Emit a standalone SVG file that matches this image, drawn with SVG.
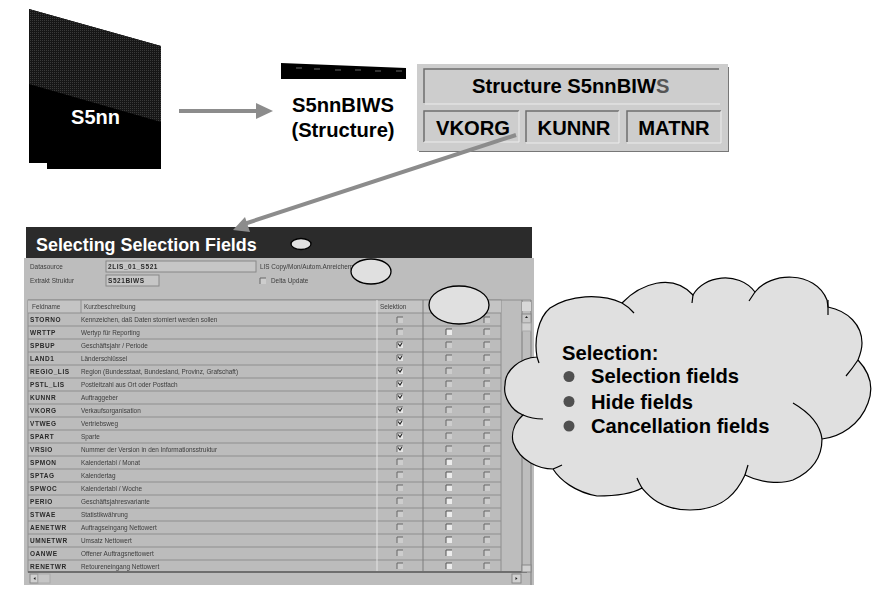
<svg xmlns="http://www.w3.org/2000/svg" width="874" height="592" viewBox="0 0 874 592">
<style>
text{font-family:"Liberation Sans",Arial,sans-serif}
.b{font-weight:700;fill:#000}
.h18{font-size:20.200px}
.c{text-anchor:middle}
.dk{stroke:#6e6e6e;stroke-width:1.5;fill:none}
.lt{stroke:#ececec;stroke-width:1;fill:none}
.fn{font-size:6.5px;font-weight:700;fill:#2a2a2a;letter-spacing:.55px}
.ds{font-size:6.4px;fill:#3c3c3c}
.rl{stroke:#8e8e8e;stroke-width:1}
.conn{stroke:#8c8c8c;stroke-width:4;fill:none}
.head{fill:#8c8c8c}
.ov{fill:#e0e0e0;stroke:#000;stroke-width:1.3}
</style>
<defs>
<pattern id="dith" width="2" height="2" patternUnits="userSpaceOnUse"><rect width="2" height="2" fill="#161616"/><rect width="1" height="1" fill="#3a3a3a"/></pattern>
<filter id="soft" x="-2%" y="-2%" width="104%" height="104%"><feGaussianBlur stdDeviation="0.45"/></filter>
<g id="chk"><rect x="-3" y="-3" width="6" height="6" fill="#cdcdcd"/><path d="M-3 3V-3H3" stroke="#666" fill="none"/></g>
<g id="chkw"><rect x="-3" y="-3" width="6" height="6" fill="#ececec"/><path d="M-3 3V-3H3" stroke="#555" fill="none"/></g>
<g id="chkx"><rect x="-3" y="-3" width="6" height="6" fill="#e6e6e6"/><path d="M-3 3V-3H3" stroke="#666" fill="none"/><path d="M-2-1.5l2 2.5 2-3" stroke="#222" stroke-width="1.2" fill="none"/></g>
</defs>

<g id="node-s5nn">
<polygon fill="#000" points="29,9 161,46 161,169 47,169 47,163 29,163"/>
<polygon fill="url(#dith)" points="29,9 161,46 161,122 29,84"/>
<text x="95.500" y="124" class="c" style="font-size:20px;font-weight:700;fill:#fff">S5nn</text>
</g>

<g id="node-s5nnbiws">
<polygon fill="#000" points="281,63 406,68 406,79 281,79"/>
<path d="M296 68h6M314 69h6M335 70h6M355 70h6M375 71h6M396 71h6" stroke="#666" stroke-width="1"/>
<text x="343" y="112" class="b h18 c">S5nnBIWS</text>
<text x="343" y="137" class="b h18 c">(Structure)</text>
</g>

<g id="node-structure">
<rect x="419" y="67" width="310" height="85" fill="#777"/>
<rect x="417" y="64" width="311" height="87" fill="#cdcdcd"/>
<path class="dk" d="M424 103V69H719"/><path class="lt" d="M425 104H720"/>
<path class="dk" d="M424 142V111H519"/><path class="lt" d="M424 142H519V111"/>
<path class="dk" d="M526 142V111H619"/><path class="lt" d="M526 143H619V111"/>
<path class="dk" d="M627 142V111H721"/><path class="lt" d="M627 143H721V111"/>
<text x="472" y="93" class="b h18">Structure S5nnBIW<tspan fill="#555">S</tspan></text>
<text x="473" y="135" class="b h18 c">VKORG</text>
<text x="574" y="135" class="b h18 c">KUNNR</text>
<text x="674" y="135" class="b h18 c">MATNR</text>
</g>

<g id="node-screen">
<rect x="26" y="227" width="506" height="31" fill="#2b2b2b"/>
<text x="36" y="251" style="font-size:17.900px;font-weight:700;fill:#fff">Selecting Selection Fields</text>
<rect x="24" y="258" width="510" height="327" fill="#bdbdbd"/>
<g filter="url(#soft)">
<text x="30" y="269" class="ds">Datasource</text>
<text x="30" y="283" class="ds">Extrakt Struktur</text>
<rect x="106" y="261" width="150" height="11" fill="#c6c6c6" stroke="#888"/>
<rect x="106" y="275" width="53" height="11" fill="#c6c6c6" stroke="#888"/>
<text x="108" y="269" class="fn">2LIS_01_S521</text>
<text x="108" y="283" class="fn">S521BIWS</text>
<text x="260" y="269" class="ds">LIS Copy/Mon/Autom.Anreichern</text>
<use href="#chk" x="263" y="281"/>
<text x="271" y="283" class="ds">Delta Update</text>

<rect x="28" y="300" width="473" height="272" fill="#bcbcbc" stroke="#8e8e8e"/>
<rect x="28" y="300" width="473" height="13" fill="#c4c4c4"/>
<path class="rl" d="M28 300H531M28 313H501M28 326H501M28 339H501M28 352H501M28 365H501M28 378H501M28 391H501M28 404H501M28 417H501M28 430H501M28 443H501M28 456H501M28 469H501M28 482H501M28 495H501M28 508H501M28 521H501M28 534H501M28 547H501M28 560H501"/>
<path d="M81 300V313" stroke="#8e8e8e"/>
<path d="M377 300V572" stroke="#e4e4e4"/>
<path d="M423 300V572" stroke="#7c7c7c"/>
<path d="M522 300V572M531 300V585" stroke="#7c7c7c"/>
<rect x="522" y="302" width="9" height="9" fill="#d8d8d8"/>
<rect x="522" y="314" width="9" height="9" fill="#c8c8c8" stroke="#888"/>
<rect x="522" y="323" width="9" height="8" fill="#d0d0d0" stroke="#aaa"/>
<path d="M28 572H527" stroke="#6e6e6e" stroke-width="2"/>
<rect x="30" y="574" width="8" height="9" fill="#d0d0d0" stroke="#888"/>
<rect x="38" y="574" width="12" height="9" fill="#c6c6c6" stroke="#aaa"/>
<rect x="512" y="574" width="9" height="9" fill="#d0d0d0" stroke="#888"/>
<path d="M35.500 577v3l-2-1.500zM515.500 577v3l2-1.500zM525 567h3l-1.500 2zM525 318h3l-1.500-2z" fill="#222"/>
<rect x="522" y="565" width="9" height="7" fill="#d0d0d0" stroke="#888"/>

<text x="32" y="309" class="ds">Feldname</text>
<text x="84" y="309" class="ds">Kurzbeschreibung</text>
<text x="380" y="309" class="ds">Selektion</text>

<text x="30" y="322" class="fn">STORNO</text><text x="81" y="322" class="ds">Kennzeichen, daß Daten storniert werden sollen</text>
<text x="30" y="335" class="fn">WRTTP</text><text x="81" y="335" class="ds">Wertyp für Reporting</text>
<text x="30" y="348" class="fn">SPBUP</text><text x="81" y="348" class="ds">Geschäftsjahr / Periode</text>
<text x="30" y="361" class="fn">LAND1</text><text x="81" y="361" class="ds">Länderschlüssel</text>
<text x="30" y="374" class="fn">REGIO_LIS</text><text x="81" y="374" class="ds">Region (Bundesstaat, Bundesland, Provinz, Grafschaft)</text>
<text x="30" y="387" class="fn">PSTL_LIS</text><text x="81" y="387" class="ds">Postleitzahl aus Ort oder Postfach</text>
<text x="30" y="400" class="fn">KUNNR</text><text x="81" y="400" class="ds">Auftraggeber</text>
<text x="30" y="413" class="fn">VKORG</text><text x="81" y="413" class="ds">Verkaufsorganisation</text>
<text x="30" y="426" class="fn">VTWEG</text><text x="81" y="426" class="ds">Vertriebsweg</text>
<text x="30" y="439" class="fn">SPART</text><text x="81" y="439" class="ds">Sparte</text>
<text x="30" y="452" class="fn">VRSIO</text><text x="81" y="452" class="ds">Nummer der Version in den Informationsstruktur</text>
<text x="30" y="465" class="fn">SPMON</text><text x="81" y="465" class="ds">Kalendertabl / Monat</text>
<text x="30" y="478" class="fn">SPTAG</text><text x="81" y="478" class="ds">Kalendertag</text>
<text x="30" y="491" class="fn">SPWOC</text><text x="81" y="491" class="ds">Kalendertabl / Woche</text>
<text x="30" y="504" class="fn">PERIO</text><text x="81" y="504" class="ds">Geschäftsjahresvariante</text>
<text x="30" y="517" class="fn">STWAE</text><text x="81" y="517" class="ds">Statistikwährung</text>
<text x="30" y="530" class="fn">AENETWR</text><text x="81" y="530" class="ds">Auftragseingang Nettowert</text>
<text x="30" y="543" class="fn">UMNETWR</text><text x="81" y="543" class="ds">Umsatz Nettowert</text>
<text x="30" y="556" class="fn">OANWE</text><text x="81" y="556" class="ds">Offener Auftragsnettowert</text>
<text x="30" y="569" class="fn">RENETWR</text><text x="81" y="569" class="ds">Retoureneingang Nettowert</text>

<use href="#chk" x="400" y="320"/><use href="#chkw" x="449" y="332"/><use href="#chk" x="487" y="320"/>
<use href="#chk" x="400" y="332"/><use href="#chk" x="487" y="332"/>
<use href="#chkx" x="400" y="345"/><use href="#chk" x="449" y="345"/><use href="#chk" x="487" y="345"/>
<use href="#chkx" x="400" y="358"/><use href="#chk" x="449" y="358"/><use href="#chk" x="487" y="358"/>
<use href="#chkx" x="400" y="371"/><use href="#chk" x="449" y="371"/><use href="#chk" x="487" y="371"/>
<use href="#chkx" x="400" y="384"/><use href="#chk" x="449" y="384"/><use href="#chk" x="487" y="384"/>
<use href="#chkx" x="400" y="397"/><use href="#chk" x="449" y="397"/><use href="#chk" x="487" y="397"/>
<use href="#chkx" x="400" y="410"/><use href="#chk" x="449" y="410"/><use href="#chk" x="487" y="410"/>
<use href="#chkx" x="400" y="423"/><use href="#chk" x="449" y="423"/><use href="#chk" x="487" y="423"/>
<use href="#chkx" x="400" y="436"/><use href="#chk" x="449" y="436"/><use href="#chk" x="487" y="436"/>
<use href="#chkx" x="400" y="449"/><use href="#chk" x="449" y="449"/><use href="#chk" x="487" y="449"/>
<use href="#chk" x="400" y="462"/><use href="#chkw" x="449" y="462"/><use href="#chk" x="487" y="462"/>
<use href="#chk" x="400" y="475"/><use href="#chkw" x="449" y="475"/><use href="#chk" x="487" y="475"/>
<use href="#chk" x="400" y="488"/><use href="#chkw" x="449" y="488"/><use href="#chk" x="487" y="488"/>
<use href="#chk" x="400" y="501"/><use href="#chkw" x="449" y="501"/><use href="#chk" x="487" y="501"/>
<use href="#chk" x="400" y="514"/><use href="#chkw" x="449" y="514"/><use href="#chk" x="487" y="514"/>
<use href="#chk" x="400" y="527"/><use href="#chkw" x="449" y="527"/><use href="#chk" x="487" y="527"/>
<use href="#chk" x="400" y="540"/><use href="#chkw" x="449" y="540"/><use href="#chk" x="487" y="540"/>
<use href="#chk" x="400" y="553"/><use href="#chkw" x="449" y="553"/><use href="#chk" x="487" y="553"/>
<use href="#chk" x="400" y="566"/><use href="#chkw" x="449" y="566"/><use href="#chk" x="487" y="566"/>
</g>
<ellipse class="ov" cx="301" cy="244" rx="10" ry="5.500"/>
<ellipse class="ov" cx="371" cy="271.500" rx="20" ry="12.500"/>
<ellipse class="ov" cx="459" cy="305" rx="30" ry="19"/>
</g>

<g id="node-cloud">
<path fill="#e0e0e0" stroke="#000" stroke-width="1.200" d="M622 303C640 284 672 272 693 295C703 276 738 270 755 292C770 272 815 270 827 300L828 307C848 311 862 325 862 343C862 350 860 355 858 360C872 375 873 390 868 403C860 425 840 437 822 439C822 455 815 470 793 480C785 483 765 485 745 475C738 490 725 510 690 510C660 510 648 495 642 488C630 495 610 496 597 496C575 492 560 480 553 469C540 469 520 462 513 442C511 432 515 422 523 415C510 410 503 395 505 385C505 370 520 358 537 357C534 340 538 318 550 308C570 295 600 293 622 303Z"/>
<path fill="none" stroke="#000" stroke-width="1.200" d="M622 303Q629 307 634 313M693 295L692 303M755 292L749 301M828 300V315M858 360Q852 369 846 376M793 403C805 410 820 422 822 439M745 475L748 465M642 488Q639 483 637 478M553 469Q558 467 562 465M523 415Q532 419 543 419M537 357L539 363"/>
<text x="562" y="360" class="b h18">Selection:</text>
<circle cx="569" cy="376.500" r="5.500" fill="#505050"/>
<circle cx="569" cy="401.500" r="5.500" fill="#505050"/>
<circle cx="569" cy="426" r="5.500" fill="#505050"/>
<text x="591" y="383" class="b h18">Selection fields</text>
<text x="591" y="409" class="b h18">Hide fields</text>
<text x="591" y="433" class="b h18">Cancellation fields</text>
</g>

<g id="connectors">
<path class="conn" d="M179 111H256"/>
<polygon class="head" points="256,103 273,111 256,119"/>
<path class="conn" d="M516 135L244 224"/>
<polygon class="head" points="233,230 245,217 250,232"/>
</g>
</svg>
